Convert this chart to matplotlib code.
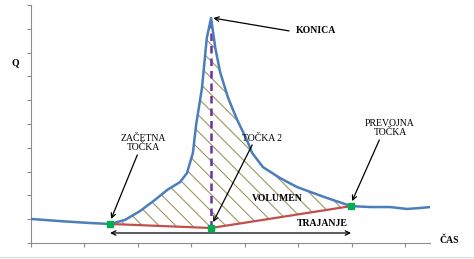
import matplotlib
matplotlib.use("Agg")
import matplotlib.pyplot as plt
from matplotlib.lines import Line2D

# hydrograph curve (time, discharge)
t = [0.00, 0.54, 1.10, 1.48, 1.76, 2.04, 2.32, 2.55, 2.79, 2.92, 3.03, 3.09,
     3.20, 3.29, 3.37, 3.45, 3.54, 3.69, 3.86, 4.04, 4.14, 4.34, 4.66, 4.98,
     5.49, 5.99, 6.35, 6.72, 7.04, 7.28, 7.47]
q = [1.01, 0.92, 0.84, 0.80, 0.97, 1.34, 1.81, 2.23, 2.56, 2.94, 3.78, 4.96,
     6.51, 8.61, 9.45, 8.19, 7.18, 6.09, 5.17, 4.33, 3.78, 3.19, 2.73, 2.35,
     1.93, 1.55, 1.51, 1.51, 1.43, 1.47, 1.51]

# base-flow separation points (start, point 2, inflection)
base_t = [1.48, 3.37, 5.99]
base_q = [0.80, 0.63, 1.55]
peak_t, peak_q = 3.37, 9.45

plt.rcParams['font.family'] = ['Liberation Serif', 'DejaVu Serif']
plt.rcParams['hatch.linewidth'] = 0.8

fig = plt.figure(figsize=(4.74, 2.59), dpi=100)
ax = fig.add_axes([0.0654, 0.0618, 0.842, 0.919])
ax.set_xlim(0, 7.47)
ax.set_ylim(0, 10)

# hatched volume polygon
poly_t = [x for x in t if base_t[0] <= x <= base_t[-1]]
poly_q = [y for x, y in zip(t, q) if base_t[0] <= x <= base_t[-1]]
poly_t += base_t[::-1]
poly_q += base_q[::-1]
ax.fill(poly_t, poly_q, facecolor='none', edgecolor='#9E9563', hatch='\\\\',
        linewidth=0, zorder=1)

ax.plot(t, q, color='#4A7EBB', lw=1.8, zorder=3, solid_joinstyle='round')
ax.plot(base_t, base_q, color='#C0504D', lw=1.6, zorder=3)
ax.plot([peak_t, peak_t], [base_q[1], peak_q], color='#7030A0', lw=1.8,
        ls=(0, (3, 2)), zorder=2)
ax.plot(base_t, base_q, ls='none', marker='s', ms=4, color='#00B050', zorder=4)

for s in ['top', 'right']:
    ax.spines[s].set_visible(False)
for s in ['left', 'bottom']:
    ax.spines[s].set_color('#8C8C8C')
    ax.spines[s].set_linewidth(0.8)
ax.set_xticks(range(0, 8))
ax.set_yticks(range(0, 11))
ax.tick_params(colors='#8C8C8C', length=3, width=0.8, labelleft=False,
               labelbottom=False)

ap = dict(arrowstyle='->', color='black', lw=0.9, shrinkA=0, shrinkB=0,
          mutation_scale=8)
fs = 7
ax.text(-0.30, 7.56, 'Q', fontsize=fs, fontweight='bold', ha='center',
        va='center', clip_on=False)
ax.annotate('', xy=(3.41, 9.45), xytext=(4.83, 8.91), arrowprops=ap)
ax.text(5.34, 8.91, 'KONICA', fontsize=fs, fontweight='bold', ha='center',
        va='center')
ax.text(2.10, 4.22, 'ZAČETNA\nTOČKA', fontsize=fs, ha='center', va='center',
        linespacing=1.0)
ax.annotate('', xy=(1.50, 1.01), xytext=(1.99, 3.70), arrowprops=ap)
ax.text(4.33, 4.41, 'TOČKA 2', fontsize=fs, ha='center', va='center')
ax.annotate('', xy=(3.41, 0.88), xytext=(4.14, 4.12), arrowprops=ap)
ax.text(6.72, 4.83, 'PREVOJNA\nTOČKA', fontsize=fs, ha='center', va='center',
        linespacing=1.0)
ax.annotate('', xy=(6.01, 1.76), xytext=(6.52, 4.33), arrowprops=ap)
ax.text(4.61, 1.89, 'VOLUMEN', fontsize=fs, fontweight='bold', ha='center',
        va='center')
ax.text(5.45, 0.80, 'TRAJANJE', fontsize=fs, fontweight='bold', ha='center',
        va='center')
ax.annotate('', xy=(base_t[0], 0.42), xytext=(base_t[-1], 0.42),
            arrowprops=dict(arrowstyle='<->', color='black', lw=0.9,
                            shrinkA=0, shrinkB=0, mutation_scale=8))
ax.text(7.83, 0.13, 'ČAS', fontsize=fs, fontweight='bold', ha='center',
        va='center', clip_on=False)

fig.add_artist(Line2D([0, 1], [0.006, 0.006], transform=fig.transFigure,
                      color='#D9D9D9', lw=0.8))

fig.savefig('out.png', dpi=100)
